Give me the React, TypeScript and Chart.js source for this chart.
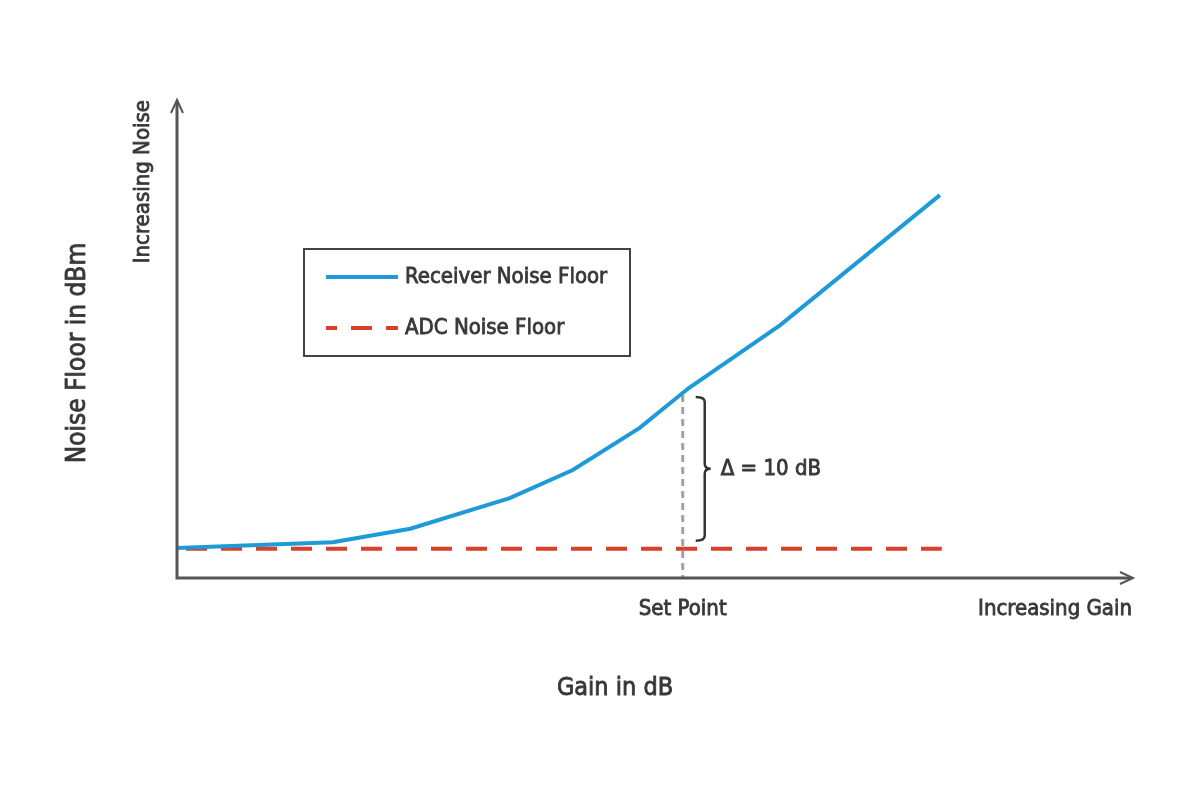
import React, { useEffect, useRef } from "react";
import { Chart, registerables } from "chart.js";

Chart.register(...registerables);

// ---- data (arbitrary units, axis 0..100) ----
const gainValues = [0, 16.3, 24.4, 34.8, 41.4, 48.4, 53.5, 63.1, 79.8];
const receiverNoise = [6.3, 7.5, 10.3, 16.7, 22.6, 31.4, 39.7, 52.9, 80.1];
const adcGain = [0, 80];
const adcNoise = [6.1, 6.1];
const setPointGain = 52.9;
const seriesLabels = ["Receiver Noise Floor", "ADC Noise Floor"];
const deltaLabel = "Δ = 10 dB";
const xTitle = "Gain in dB";
const yTitle = "Noise Floor in dBm";
const xEndLabel = "Increasing Gain";
const yEndLabel = "Increasing Noise";
const setPointLabel = "Set Point";

const FONT = "'Liberation Sans Narrow', 'DejaVu Sans Condensed', 'Roboto Condensed', sans-serif";
const TEXT = "#383838";
const BLUE = "#1e9ad8";
const RED = "#d9402b";

function interp(xs: number[], ys: number[], x: number) {
  for (let i = 0; i < xs.length - 1; i++) {
    if (x >= xs[i] && x <= xs[i + 1]) {
      const t = (x - xs[i]) / (xs[i + 1] - xs[i]);
      return ys[i] + t * (ys[i + 1] - ys[i]);
    }
  }
  return ys[ys.length - 1];
}

function heavyText(ctx: any, s: string, x: number, y: number) {
  ctx.fillStyle = TEXT;
  ctx.strokeStyle = TEXT;
  ctx.lineWidth = 0.8;
  ctx.setLineDash([]);
  ctx.fillText(s, x, y);
  ctx.strokeText(s, x, y);
}

const decorPlugin = {
  id: "decor",
  beforeDatasetsDraw(chart: any) {
    const { ctx, chartArea, scales } = chart;
    const xs = scales.x;
    const ys = scales.y;
    const B = chartArea.bottom;
    ctx.save();
    const sx = xs.getPixelForValue(setPointGain);
    const sy = ys.getPixelForValue(interp(gainValues, receiverNoise, setPointGain));
    ctx.strokeStyle = "#a0a0a0";
    ctx.lineWidth = 3;
    ctx.setLineDash([7, 5]);
    ctx.beginPath();
    ctx.moveTo(sx, sy + 2);
    ctx.lineTo(sx, B);
    ctx.stroke();
    ctx.setLineDash([]);
    ctx.restore();
  },
  afterDatasetsDraw(chart: any) {
    const { ctx, chartArea, scales } = chart;
    const xs = scales.x;
    const ys = scales.y;
    const L = chartArea.left, R = chartArea.right, T = chartArea.top, B = chartArea.bottom;
    ctx.save();
    // axes
    ctx.strokeStyle = "#555";
    ctx.lineWidth = 3;
    ctx.lineCap = "butt";
    ctx.beginPath();
    ctx.moveTo(L, T + 1);
    ctx.lineTo(L, B);
    ctx.lineTo(R - 1, B);
    ctx.stroke();
    ctx.lineWidth = 2;
    ctx.beginPath();
    ctx.moveTo(L - 6, T + 13);
    ctx.lineTo(L, T);
    ctx.lineTo(L + 6, T + 13);
    ctx.moveTo(R - 13, B - 6);
    ctx.lineTo(R, B);
    ctx.lineTo(R - 13, B + 6);
    ctx.stroke();

    // brace
    const sx = xs.getPixelForValue(setPointGain);
    const sy = ys.getPixelForValue(interp(gainValues, receiverNoise, setPointGain));
    const ay = ys.getPixelForValue(adcNoise[0]);
    const top = sy + 4;
    const bot = ay - 8;
    const mid = (top + bot) / 2;
    const bx = sx + 22;
    ctx.strokeStyle = "#333";
    ctx.lineWidth = 2.5;
    ctx.beginPath();
    ctx.moveTo(sx + 13, top);
    ctx.quadraticCurveTo(bx, top, bx, top + 5);
    ctx.lineTo(bx, mid - 5);
    ctx.quadraticCurveTo(bx, mid, bx + 6, mid);
    ctx.quadraticCurveTo(bx, mid, bx, mid + 5);
    ctx.lineTo(bx, bot - 5);
    ctx.quadraticCurveTo(bx, bot, sx + 13, bot);
    ctx.stroke();

    ctx.textBaseline = "middle";
    ctx.textAlign = "left";
    ctx.font = `22px ${FONT}`;
    heavyText(ctx, deltaLabel, bx + 16, mid);

    // axis labels
    ctx.font = `22px ${FONT}`;
    ctx.textAlign = "center";
    heavyText(ctx, setPointLabel, sx, B + 31);
    ctx.textAlign = "right";
    heavyText(ctx, xEndLabel, R - 1, B + 31);
    ctx.font = `25px ${FONT}`;
    ctx.textAlign = "center";
    heavyText(ctx, xTitle, 615, B + 110);

    ctx.save();
    ctx.translate(L - 34, T);
    ctx.rotate(-Math.PI / 2);
    ctx.font = `22px ${FONT}`;
    ctx.textAlign = "right";
    heavyText(ctx, yEndLabel, 0, 0);
    ctx.restore();

    ctx.save();
    ctx.translate(L - 99, 353);
    ctx.rotate(-Math.PI / 2);
    ctx.font = `26px ${FONT}`;
    ctx.textAlign = "center";
    heavyText(ctx, yTitle, 0, 0);
    ctx.restore();

    // legend box
    const lx = 304, ly = 249, lw = 326, lh = 107;
    ctx.strokeStyle = "#444";
    ctx.lineWidth = 2;
    ctx.strokeRect(lx, ly, lw, lh);
    const ds = chart.data.datasets;
    const rows = [ly + 28, ly + 79];
    ds.forEach((d: any, i: number) => {
      ctx.strokeStyle = d.borderColor;
      ctx.lineWidth = 4;
      ctx.setLineDash(d.borderDash || []);
      ctx.lineDashOffset = d.borderDash ? 10 : 0;
      ctx.beginPath();
      ctx.moveTo(lx + 22, rows[i]);
      ctx.lineTo(lx + 94, rows[i]);
      ctx.stroke();
      ctx.setLineDash([]);
      ctx.lineDashOffset = 0;
      ctx.font = `22px ${FONT}`;
      ctx.textAlign = "left";
      heavyText(ctx, d.label, lx + 101, rows[i]);
    });
    ctx.restore();
  },
};

export default function App() {
  const ref = useRef<HTMLCanvasElement | null>(null);
  useEffect(() => {
    document.body.style.margin = "0";
    document.body.style.background = "#fff";
    const canvas = ref.current!;
    const chart = new Chart(canvas, {
      type: "line",
      data: {
        datasets: [
          {
            label: seriesLabels[0],
            data: gainValues.map((g, i) => ({ x: g, y: receiverNoise[i] })),
            borderColor: BLUE,
            borderWidth: 4,
            pointRadius: 0,
            tension: 0,
            fill: false,
          },
          {
            label: seriesLabels[1],
            data: adcGain.map((g, i) => ({ x: g, y: adcNoise[i] })),
            borderColor: RED,
            borderWidth: 4,
            borderDash: [21, 14],
            borderDashOffset: 26,
            pointRadius: 0,
            fill: false,
          },
        ],
      },
      options: {
        animation: false,
        responsive: false,
        devicePixelRatio: 1,
        layout: { padding: { left: 177, right: 67, top: 100, bottom: 220 } },
        plugins: { legend: { display: false }, tooltip: { enabled: false } },
        scales: {
          x: { type: "linear", min: 0, max: 100, display: false },
          y: { type: "linear", min: 0, max: 100, display: false },
        },
      },
      plugins: [decorPlugin],
    });
    return () => chart.destroy();
  }, []);
  return <canvas ref={ref} width={1200} height={798} style={{ display: "block" }} />;
}
